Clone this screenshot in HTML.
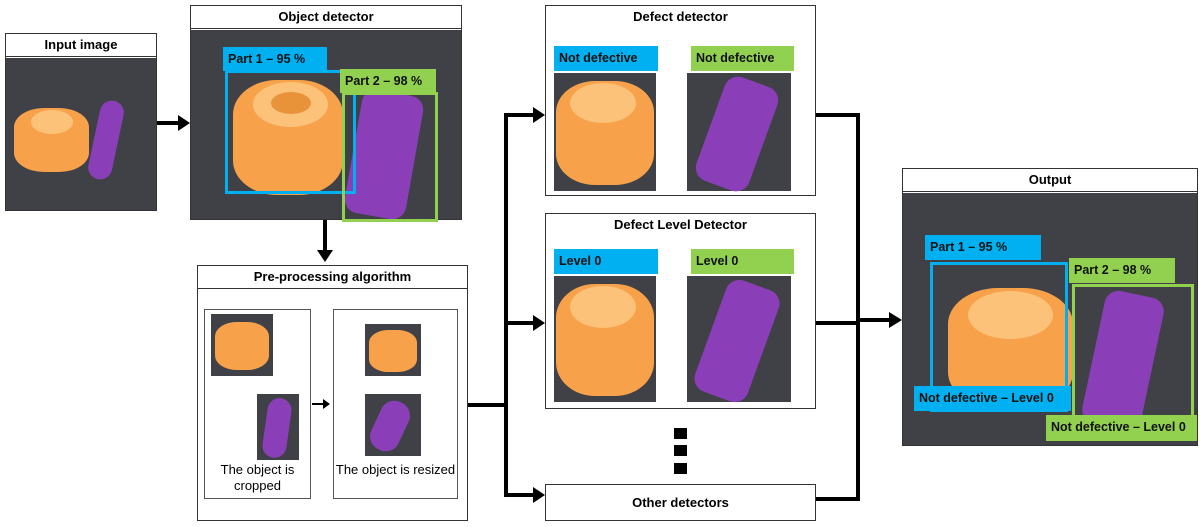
<!DOCTYPE html>
<html><head><meta charset="utf-8"><style>
body{margin:0;width:1200px;height:527px;background:#fff;position:relative;overflow:hidden;font-family:"Liberation Sans",sans-serif}
div{position:absolute;box-sizing:border-box}
.box{border:1px solid #333;background:#fff}
.t{font-weight:bold;font-size:13px;text-align:center;line-height:22px;border-bottom:1px solid #333;left:0;right:0;top:0;height:23px}
.ph{background:#3f4146}
.or{background:#f7a24a;border-radius:40%/30%}
.or2{background:#fbb868;border-radius:50%}
.pu{background:#8a3fb8;border-radius:14px}
.lb{font-weight:bold;font-size:12.5px;line-height:24px;padding-left:5px;color:#111;white-space:nowrap}
.bl{background:#00b0f0}.gr{background:#92d050}
.bb{border:3px solid #00b0f0}.gb{border:3px solid #92d050}
.ln{background:#000}
.cap{font-size:13px;text-align:center;line-height:16px}
</style></head><body>

<!-- Input image -->
<div class="box" style="left:5px;top:33px;width:152px;height:178px">
<div class="t">Input image</div>
<div class="ph" style="left:0;top:24px;width:150px;height:152px">
 <div class="or" style="left:8px;top:50px;width:75px;height:64px"></div>
 <div class="or2" style="left:25px;top:52px;width:42px;height:24px;background:#fdc27a"></div>
 <div class="pu" style="left:88px;top:42px;width:24px;height:80px;transform:rotate(12deg)"></div>
</div></div>
<div class="ln" style="left:157px;top:121px;width:22px;height:4px"></div>
<div style="left:178px;top:115px;border-left:12px solid #000;border-top:8px solid transparent;border-bottom:8px solid transparent"></div>

<!-- Object detector -->
<div class="box" style="left:190px;top:5px;width:272px;height:215px">
<div class="t">Object detector</div>
<div class="ph" style="left:0;top:24px;width:270px;height:189px">
 <div class="or" style="left:42px;top:50px;width:110px;height:115px"></div>
 <div class="or2" style="left:62px;top:52px;width:75px;height:45px;background:#fdc27a"></div>
 <div class="or2" style="left:80px;top:62px;width:40px;height:22px;background:#e8923a"></div>
 <div class="pu" style="left:162px;top:62px;width:62px;height:125px;transform:rotate(10deg)"></div>
</div>
<div class="bb" style="left:34px;top:64px;width:131px;height:124px"></div>
<div class="bl lb" style="left:32px;top:41px;width:104px;height:24px">Part 1 – 95 %</div>
<div class="gb" style="left:151px;top:86px;width:96px;height:130px"></div>
<div class="gr lb" style="left:149px;top:63px;width:96px;height:24px">Part 2 – 98 %</div>
</div>
<div class="ln" style="left:323px;top:220px;width:4px;height:32px"></div>
<div style="left:317px;top:250px;border-top:12px solid #000;border-left:8px solid transparent;border-right:8px solid transparent"></div>

<!-- Pre-processing -->
<div class="box" style="left:197px;top:265px;width:271px;height:256px">
<div class="t">Pre-processing algorithm</div>
<div class="box" style="left:6px;top:43px;width:107px;height:190px;border-color:#555">
 <div class="ph" style="left:6px;top:4px;width:62px;height:62px"><div class="or" style="left:4px;top:8px;width:54px;height:48px"></div></div>
 <div class="ph" style="left:52px;top:84px;width:42px;height:66px"><div class="pu" style="left:8px;top:4px;width:24px;height:60px;transform:rotate(8deg)"></div></div>
 <div class="cap" style="left:0;top:152px;width:105px">The object is cropped</div>
</div>
<div class="ln" style="left:114px;top:137px;width:12px;height:2px"></div>
<div style="left:125px;top:133px;border-left:7px solid #000;border-top:5px solid transparent;border-bottom:5px solid transparent"></div>
<div class="box" style="left:135px;top:43px;width:125px;height:190px;border-color:#555">
 <div class="ph" style="left:31px;top:14px;width:56px;height:52px"><div class="or" style="left:4px;top:6px;width:48px;height:42px"></div></div>
 <div class="ph" style="left:31px;top:84px;width:56px;height:62px"><div class="pu" style="left:10px;top:6px;width:30px;height:52px;transform:rotate(25deg)"></div></div>
 <div class="cap" style="left:0;top:152px;width:123px">The object is resized</div>
</div>
</div>

<!-- branch lines -->
<div class="ln" style="left:468px;top:403px;width:40px;height:4px"></div>
<div class="ln" style="left:504px;top:113px;width:4px;height:384px"></div>
<div class="ln" style="left:504px;top:113px;width:30px;height:4px"></div>
<div style="left:533px;top:107px;border-left:12px solid #000;border-top:8px solid transparent;border-bottom:8px solid transparent"></div>
<div class="ln" style="left:504px;top:321px;width:30px;height:4px"></div>
<div style="left:533px;top:315px;border-left:12px solid #000;border-top:8px solid transparent;border-bottom:8px solid transparent"></div>
<div class="ln" style="left:504px;top:493px;width:30px;height:4px"></div>
<div style="left:533px;top:487px;border-left:12px solid #000;border-top:8px solid transparent;border-bottom:8px solid transparent"></div>

<!-- Defect detector -->
<div class="box" style="left:545px;top:5px;width:271px;height:191px">
<div class="t" style="border-bottom:none">Defect detector</div>
<div class="bl lb" style="left:8px;top:40px;width:104px;height:25px">Not defective</div>
<div class="gr lb" style="left:145px;top:40px;width:103px;height:25px">Not defective</div>
<div class="ph" style="left:8px;top:67px;width:102px;height:118px"><div class="or" style="left:2px;top:8px;width:98px;height:104px"></div><div class="or2" style="left:16px;top:10px;width:66px;height:40px;background:#fdc27a"></div></div>
<div class="ph" style="left:141px;top:67px;width:104px;height:118px"><div class="pu" style="left:22px;top:6px;width:56px;height:110px;transform:rotate(20deg)"></div></div>
</div>

<!-- Defect Level Detector -->
<div class="box" style="left:545px;top:213px;width:271px;height:196px">
<div class="t" style="border-bottom:none">Defect Level Detector</div>
<div class="bl lb" style="left:8px;top:35px;width:104px;height:25px">Level 0</div>
<div class="gr lb" style="left:145px;top:35px;width:103px;height:25px">Level 0</div>
<div class="ph" style="left:8px;top:62px;width:102px;height:126px"><div class="or" style="left:2px;top:8px;width:98px;height:112px"></div><div class="or2" style="left:16px;top:10px;width:66px;height:42px;background:#fdc27a"></div></div>
<div class="ph" style="left:141px;top:62px;width:104px;height:126px"><div class="pu" style="left:22px;top:6px;width:56px;height:118px;transform:rotate(20deg)"></div></div>
</div>

<!-- dots -->
<div class="ln" style="left:674px;top:428px;width:13px;height:11px"></div>
<div class="ln" style="left:674px;top:445px;width:13px;height:11px"></div>
<div class="ln" style="left:674px;top:463px;width:13px;height:11px"></div>

<!-- Other detectors -->
<div class="box" style="left:545px;top:484px;width:271px;height:37px"><div class="t" style="border:none;line-height:35px;height:35px">Other detectors</div></div>

<!-- merge lines -->
<div class="ln" style="left:816px;top:113px;width:44px;height:4px"></div>
<div class="ln" style="left:856px;top:113px;width:4px;height:388px"></div>
<div class="ln" style="left:816px;top:321px;width:44px;height:4px"></div>
<div class="ln" style="left:816px;top:497px;width:44px;height:4px"></div>
<div class="ln" style="left:856px;top:318px;width:34px;height:4px"></div>
<div style="left:889px;top:312px;border-left:13px solid #000;border-top:8px solid transparent;border-bottom:8px solid transparent"></div>

<!-- Output -->
<div class="box" style="left:902px;top:168px;width:296px;height:278px">
<div class="t">Output</div>
<div class="ph" style="left:0;top:24px;width:294px;height:252px">
 <div class="or" style="left:45px;top:95px;width:125px;height:120px"></div>
 <div class="or2" style="left:65px;top:98px;width:85px;height:48px;background:#fdc27a"></div>
 <div class="pu" style="left:190px;top:100px;width:60px;height:135px;transform:rotate(12deg)"></div>
</div>
<div class="bb" style="left:27px;top:93px;width:138px;height:150px"></div>
<div class="bl lb" style="left:22px;top:66px;width:116px;height:25px">Part 1 – 95 %</div>
<div class="gb" style="left:169px;top:115px;width:122px;height:135px"></div>
<div class="gr lb" style="left:166px;top:89px;width:106px;height:25px">Part 2 – 98 %</div>
<div class="bl lb" style="left:11px;top:217px;width:157px;height:25px">Not defective – Level 0</div>
<div class="gr lb" style="left:143px;top:246px;width:151px;height:26px">Not defective – Level 0</div>
</div>
</body></html>
